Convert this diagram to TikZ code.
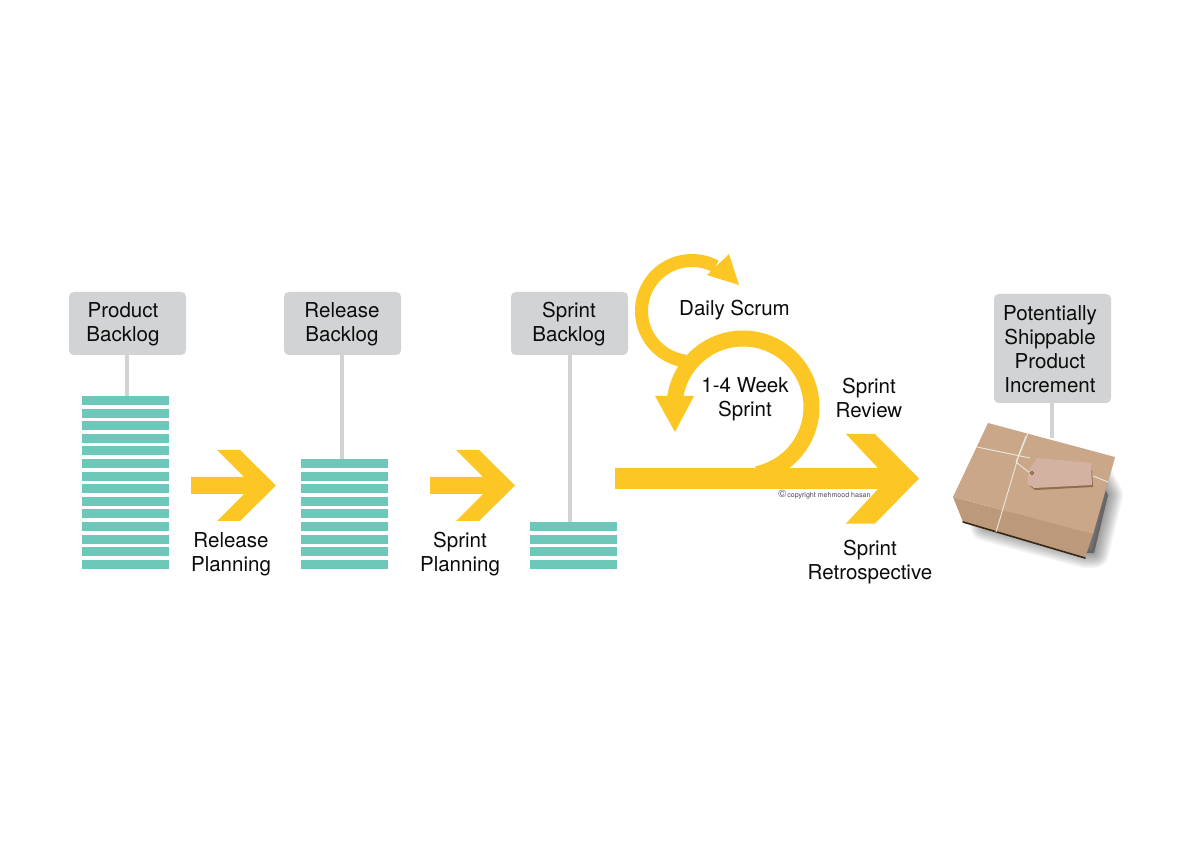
\documentclass[tikz,border=0pt]{standalone}
\usepackage{fontspec}
\setmainfont{TeX Gyre Heros}
\definecolor{flow}{HTML}{FCC624}
\definecolor{bar}{HTML}{6DC8BA}
\definecolor{tagbox}{HTML}{D1D3D4}
\definecolor{ink}{HTML}{0C0C0C}
\definecolor{ptop}{HTML}{C9A788}
\definecolor{pfront}{HTML}{BC997A}
\definecolor{pside}{HTML}{B08C6C}
\definecolor{ptag}{HTML}{D4B2A2}
\definecolor{pstring}{HTML}{EDE6DC}
\tikzset{
  greybox/.style={fill=tagbox,rounded corners=3.5pt,inner sep=0pt,minimum width=87.75pt},
  lbl/.style={font=\fontsize{15.4}{18}\selectfont,align=center,text=ink,inner sep=0pt},
  stem/.style={draw=tagbox,line width=3pt},
  barfill/.style={fill=bar},
  flowfill/.style={fill=flow},
  band/.style={draw=flow,line join=round},
  twine/.style={draw=pstring,line width=0.7pt,line join=round},
}
\begin{document}
\begin{tikzpicture}[x=0.75pt,y=-0.75pt]
\useasboundingbox (0,0) rectangle (1200,848);
\fill[white] (0,0) rectangle (1200,848);

% stacks of backlog items
\foreach \i in {0,...,13} \fill[barfill] (82,{396+12.6*\i}) rectangle ++(87,9);
\foreach \i in {0,...,8} \fill[barfill] (301,{459+12.6*\i}) rectangle ++(87,9);
\foreach \i in {0,...,3} \fill[barfill] (530,{522+12.6*\i}) rectangle ++(87,9);
\coordinate (s1) at (126.5,396);
\coordinate (s2) at (342,459);
\coordinate (s3) at (570,522);
\coordinate (gift) at (1052,438);

% grey boxes
\node[greybox,minimum height=47.25pt] (pb) at (127.5,323.5) {};
\node[greybox,minimum height=47.25pt] (rb) at (342.5,323.5) {};
\node[greybox,minimum height=47.25pt] (sb) at (569.5,323.5) {};
\node[greybox,minimum height=81.75pt] (pi) at (1052.5,348.5) {};
\draw[stem] (pb.south -| s1) -- (s1);
\draw[stem] (rb.south -| s2) -- (s2);
\draw[stem] (sb.south -| s3) -- (s3);

% small arrows
\fill[flowfill] (191,477) -- (244,477) -- (217,450) -- (240,450) -- (276,485.5) -- (240,521) -- (217,521) -- (244,494) -- (191,494) -- cycle;
\fill[flowfill] (430,477) -- (483,477) -- (456,450) -- (479,450) -- (515,485.5) -- (479,521) -- (456,521) -- (483,494) -- (430,494) -- cycle;

% daily scrum loop
\draw[band,line width=9.75pt] plot[domain=62:262,samples=60] ({692+50.5*cos(\x)},{311-50.5*sin(\x)});
\fill[flowfill] (729,254) -- (739,285) -- (707,275) -- cycle;

% sprint loop
\draw[band,line width=12pt] plot[domain=-78:172,samples=80] ({743+68.5*cos(\x)},{407-68.5*sin(\x)});
\fill[flowfill] (655,396) -- (694,396) -- (675,432) -- cycle;

% long arrow
\fill[flowfill] (615,468) -- (878,468) -- (846,434) -- (875,434) -- (919,478.5) -- (875,523.5) -- (846,523.5) -- (878,489) -- (615,489) -- cycle;

% parcel shadow
\foreach \w in {30,27,24,21,18,15,12,9,6,3}
  \filldraw[black,opacity=0.045,line width=\w*0.75pt,line join=round]
    (985,526) -- (1085,553) -- (1094,553) -- (1108,495) -- (1100,480) -- cycle;
% parcel
\fill[pside] (1115,457) -- (1085,558) -- (1093,534) -- cycle;
\fill[pfront] (953,497) -- (1093,534) -- (1085,557) -- (963,522) -- cycle;
\fill[ptop] (988,423) -- (1115,457) -- (1093,534) -- (953,497) -- cycle;
\draw[black!70!brown,line width=1.2pt,line cap=round] (963,522) -- (1085,558);
% string
\draw[twine] (977,447) -- (1030,458) (1093,476) -- (1108,482)
  (1028,433) -- (1018,458) -- (996,532) (1026,436) -- (1016,462) (1017,463) -- (1030,473);
% tag
\fill[brown!50!black,opacity=.55] (1030,486) -- (1035,490) -- (1093,487) -- (1092,470) -- cycle;
\fill[ptag] (1037,458) -- (1091,463) -- (1092,485) -- (1034,488) -- (1027,483) -- (1029,470) -- cycle;
\draw[brown!60!black,line width=0.5pt] (1032,473) circle (1.6);
\draw[stem] (pi.south -| gift) -- (gift);

% labels
\node[lbl] (t1) at (123,324.5) {Product\\Backlog};
\node[lbl] (t2) at (342,324.5) {Release\\Backlog};
\node[lbl] (t3) at (569,324.5) {Sprint\\Backlog};
\node[lbl] (t4) at (1050,349) {Potentially\\Shippable\\Product\\Increment};
\node[lbl] (t5) at (231,554) {Release\\Planning};
\node[lbl] (t6) at (460,554) {Sprint\\Planning};
\node[lbl] (t7) at (734.5,310.5) {Daily Scrum};
\node[lbl] (t8) at (745,399.5) {1-4 Week\\Sprint};
\node[lbl] (t9) at (869,397.5) {Sprint\\Review};
\node[lbl] (t10) at (870,562.5) {Sprint\\Retrospective};
\node[inner sep=0pt,text=black!70,font=\fontsize{5.3}{6}\selectfont,anchor=west] (cr) at (778,494.5) {{\fontsize{8}{8}\selectfont©}\,copyright mehmood hasan};
\end{tikzpicture}
\end{document}
